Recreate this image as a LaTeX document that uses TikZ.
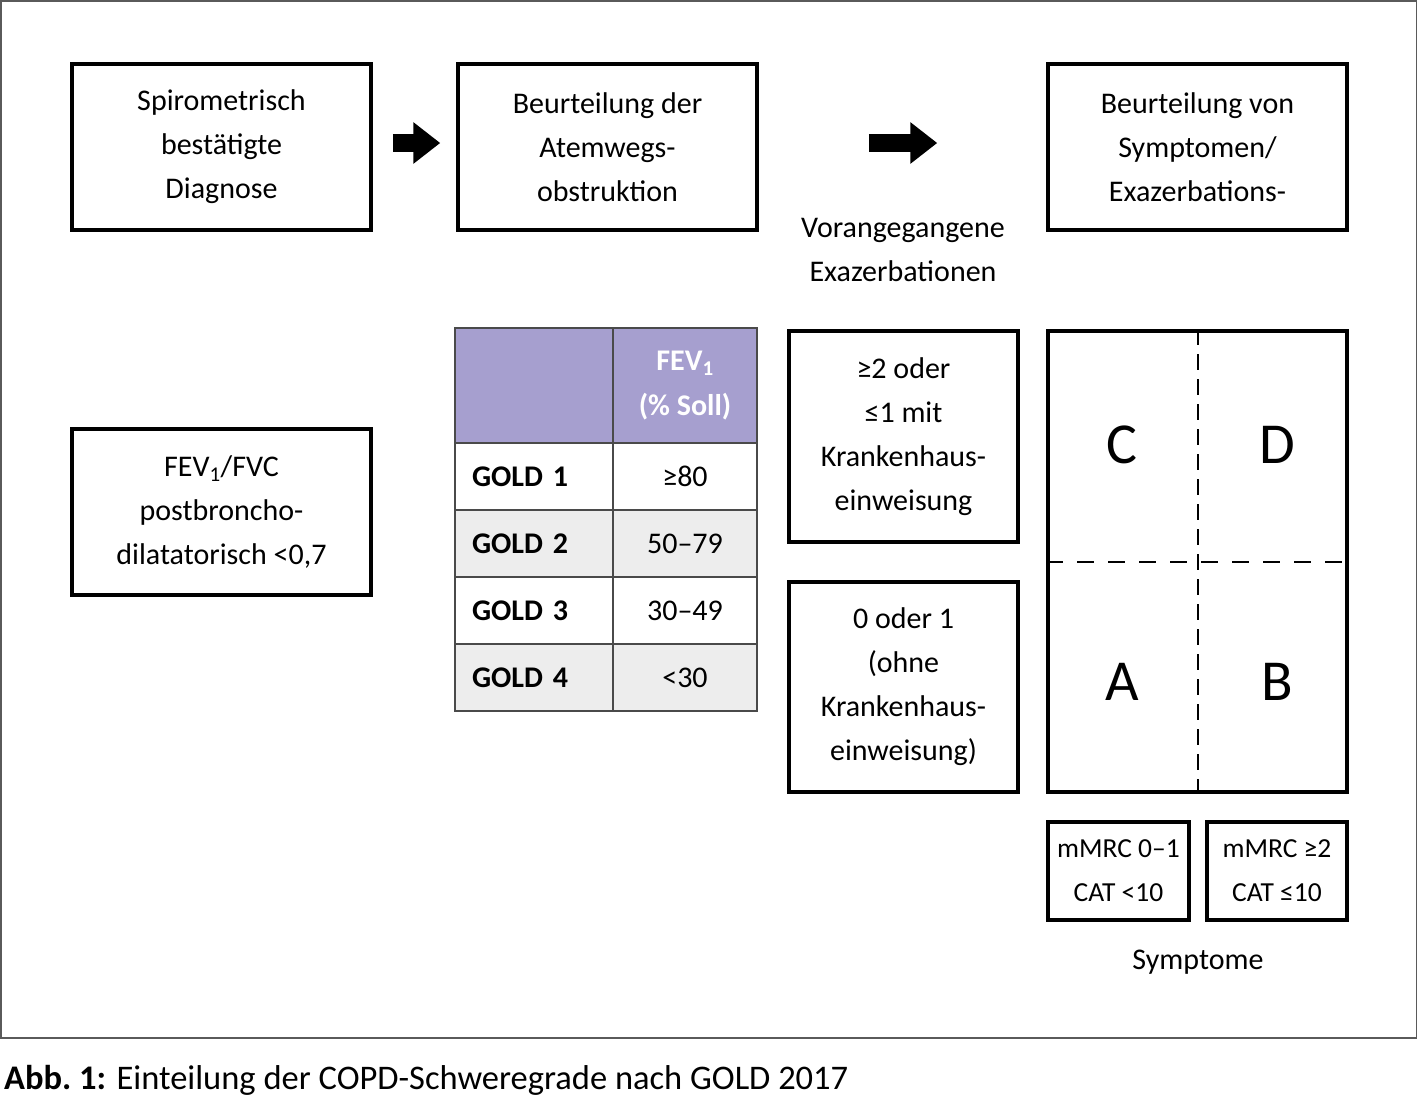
\documentclass[tikz,border=0pt]{standalone}
\usepackage{fontspec}
\setmainfont{Carlito}
\usetikzlibrary{arrows.meta,positioning}

\definecolor{goldpurple}{HTML}{A69FCF}
\definecolor{rowgray}{HTML}{EDEDED}
\definecolor{linegray}{HTML}{4A4A4A}
\definecolor{framegray}{HTML}{5A5A5A}

\begin{document}
\begin{tikzpicture}[x=1pt, y=-1pt,
    box/.style={draw, line width=3.5pt, align=center, inner sep=0pt,
        font=\fontsize{30}{44}\selectfont},
    bigbox/.style={box, minimum width=299pt, minimum height=166pt},
    cell/.style={draw=linegray, line width=1.2pt, inner sep=0pt,
        font=\fontsize{30}{45}\selectfont},
    blockarrow/.style={line width=18pt, -{Triangle[length=27pt, width=40pt]}},
    quadletter/.style={font=\fontsize{58}{58}\selectfont},
    quadline/.style={line width=2pt},
]
    % Picture size and outer frame
    \useasboundingbox (0, 0) rectangle (1417, 1106);
    \draw[framegray, line width=1.5pt] (0.75, 0.75) rectangle (1416.25, 1038);

    % Top row of boxes
    \node[bigbox] (diag) at (221.5, 147) {Spirometrisch\\bestätigte\\Diagnose};
    \node[bigbox] (obst) at (607.5, 147) {Beurteilung der\\Atemwegs-\\obstruktion};
    \node[bigbox] (sympt) at (1197.5, 147) {Beurteilung von\\Symptomen/\\Exazerbations-};

    % Block arrows between the top boxes
    \draw[blockarrow] ([xshift=20pt, yshift=4pt]diag.east) -- ([xshift=-16pt, yshift=4pt]obst.west);
    \draw[blockarrow] ([xshift=110pt, yshift=4pt]obst.east) -- ([xshift=-109pt, yshift=4pt]sympt.west);

    % Label of the exacerbation column
    \node[align=center, font=\fontsize{30}{44}\selectfont] (exalabel) at (903, 250)
        {Vorangegangene\\Exazerbationen};

    % FEV1/FVC box
    \node[bigbox] (ratio) at (221.5, 512)
        {FEV\textsubscript{1}/FVC\\postbroncho-\\dilatatorisch <0,7};

    % GOLD table
    % Header row
    \node[cell, fill=goldpurple, minimum width=158pt, minimum height=115pt] (head0) at (534, 385.5) {};
    \node[cell, fill=goldpurple, minimum width=144pt, minimum height=115pt,
        text=white, align=center, font=\fontsize{30}{45}\selectfont\bfseries] (head1) at (685, 385.5)
        {FEV\textsubscript{1}\\(\% Soll)};
    % Grade rows
    \foreach \i/\val/\col in {1/≥80/white, 2/50–79/rowgray, 3/30–49/white, 4/<30/rowgray} {
        \node[cell, fill=\col, minimum width=158pt, minimum height=67pt, inner xsep=17pt,
            text width=124pt, align=left, font=\fontsize{30}{36}\selectfont\bfseries]
            (gold\i) at (534, {476.5+67*(\i-1)}) {GOLD~\i};
        \node[cell, fill=\col, minimum width=144pt, minimum height=67pt]
            (fev\i) at (685, {476.5+67*(\i-1)}) {\val};
    }

    % Exacerbation boxes
    \node[box, minimum width=229pt, minimum height=211pt] (exahigh) at (903.5, 436.5)
        {≥2 oder\\≤1 mit\\Krankenhaus-\\einweisung};
    \node[box, minimum width=229pt, minimum height=210pt] (exalow) at (903.5, 687)
        {0 oder 1\\(ohne\\Krankenhaus-\\einweisung)};

    % ABCD grid
    \node[box, minimum width=299pt, minimum height=461pt] (grid) at (1197.5, 561.5) {};
    \draw[quadline, dash pattern=on 16pt off 9pt] (grid.north) -- (grid.south);
    \draw[quadline, dash pattern=on 17pt off 14pt] (grid.west) -- (grid.east);
    \node[quadletter] (qc) at (1122, 445) {C};
    \node[quadletter] (qd) at (1277, 445) {D};
    \node[quadletter] (qa) at (1122, 682) {A};
    \node[quadletter] (qb) at (1277, 682) {B};

    % Symptom boxes
    \node[box, minimum width=141pt, minimum height=98pt, font=\fontsize{27.5}{44}\selectfont]
        (symlow) at (1118.5, 871) {mMRC 0–1\\CAT <10};
    \node[box, minimum width=140pt, minimum height=98pt, font=\fontsize{27.5}{44}\selectfont]
        (symhigh) at (1277, 871) {mMRC ≥2\\CAT ≤10};
    \node[font=\fontsize{30}{44}\selectfont] (symlabel) at (1198, 962) {Symptome};

    % Caption
    \node[anchor=base west, inner sep=0pt, font=\fontsize{34.5}{40}\selectfont] (caption) at (4, 1089)
        {\textbf{Abb.\ 1:} Einteilung der COPD-Schweregrade nach GOLD 2017};
\end{tikzpicture}
\end{document}
